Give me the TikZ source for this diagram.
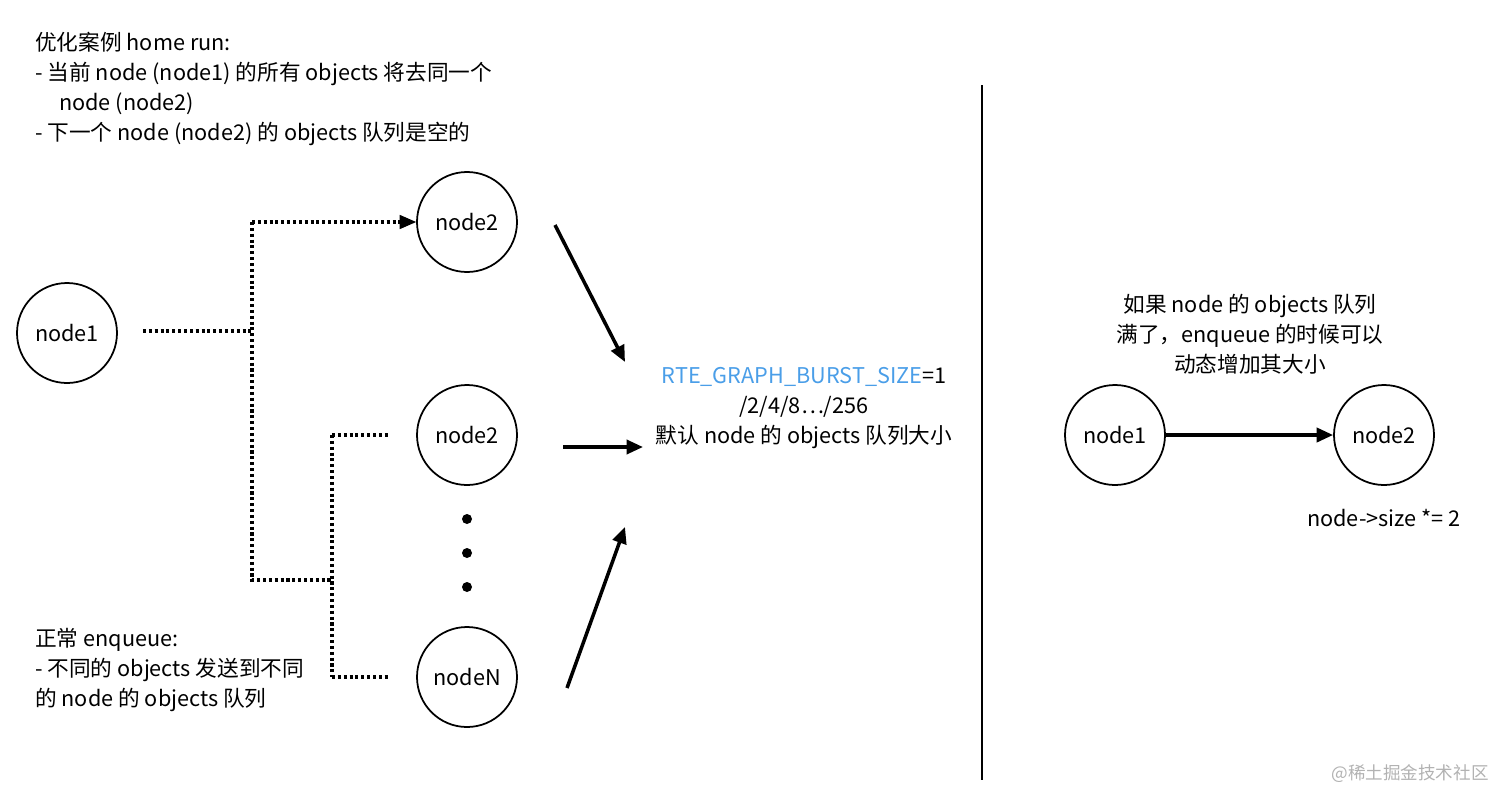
\documentclass[tikz,border=0pt]{standalone}
\usepackage{fontspec}
\setmainfont{Noto Sans CJK SC}
\usetikzlibrary{arrows.meta}
\definecolor{rteblue}{HTML}{4A9EE8}
\begin{document}
\begin{tikzpicture}[x=0.03cm,y=-0.03cm,font=\fontsize{18.5}{25.5}\selectfont,
  circ/.style={draw,line width=1.5pt,circle,minimum size=3cm,inner sep=0pt},
  dots/.style={line width=3.2pt,dash pattern=on 2.6pt off 2.4pt},
  bigarr/.style={line width=3pt,-{Triangle[length=14pt,width=12pt]}},
  txt/.style={align=left,anchor=north west,inner sep=0pt}]
\useasboundingbox (0,0) rectangle (1512,806);
\node[circ] (n1) at (67,333) {node1};
\node[circ] (n2a) at (467,222) {node2};
\node[circ] (n2b) at (467,435) {node2};
\node[circ] (nN) at (467,677) {nodeN};
\foreach \y/\nm in {519/d1,553/d2,587/d3} \fill (467,\y) circle (5) coordinate (\nm);
\node[circ] (r1) at (1115,435) {node1};
\node[circ] (r2) at (1384,435) {node2};
% dotted tree
\coordinate (a0) at (143,331); \coordinate (a1) at (252,331);
\coordinate (b0) at (252,222); \coordinate (b1) at (252,580);
\coordinate (c1) at (332,580); \coordinate (c0) at (332,435); \coordinate (c2) at (332,677);
\draw[dots] (a0) -- (a1);
\draw[dots] (b0) -- (b1) -- (c1);
\draw[dots] (b0) -- (400,222);
\draw[line width=1pt,-{Triangle[length=14pt,width=12pt]}] (398,222) -- (n2a.west);
\draw[dots] (c0) -- (c2);
\draw[dots] (c0) -- (390,435) coordinate (c0e);
\draw[dots] (c2) -- (390,677) coordinate (c2e);
% center text
\node[align=center] (mid) at (804,408) {\textcolor{rteblue}{RTE\_GRAPH\_BURST\_SIZE}=1\\/2/4/8…/256\\默认 node 的 objects 队列大小};
\coordinate (s1) at (555,225); \coordinate (e1) at (625,362);
\coordinate (s2) at (563,447); \coordinate (e2) at (643,447);
\coordinate (s3) at (567,688); \coordinate (e3) at (625,527);
\draw[bigarr] (s1) -- (e1);
\draw[bigarr] (s2) -- (e2);
\draw[bigarr] (s3) -- (e3);
\draw[bigarr] (r1.east) -- (r2.west);
% divider
\coordinate (v0) at (982,85); \coordinate (v1) at (982,780);
\draw[line width=1.2pt] (v0) -- (v1);
% texts
\node[txt] (t1) at (35,32) {优化案例 home run:\\- 当前 node (node1) 的所有 objects 将去同一个\\\hspace{1.1em}node (node2)\\- 下一个 node (node2) 的 objects 队列是空的};
\node[txt] (t2) at (35,628) {正常 enqueue:\\- 不同的 objects 发送到不同\\的 node 的 objects 队列};
\node[align=center] (t3) at (1250,334) {如果 node 的 objects 队列\\满了，enqueue 的时候可以\\动态增加其大小};
\node (t4) at (1384,518) {node->size *= 2};
\node[text=gray!60,font=\fontsize{15}{18}\selectfont] (wm) at (1410,774) {@稀土掘金技术社区};
\end{tikzpicture}
\end{document}
